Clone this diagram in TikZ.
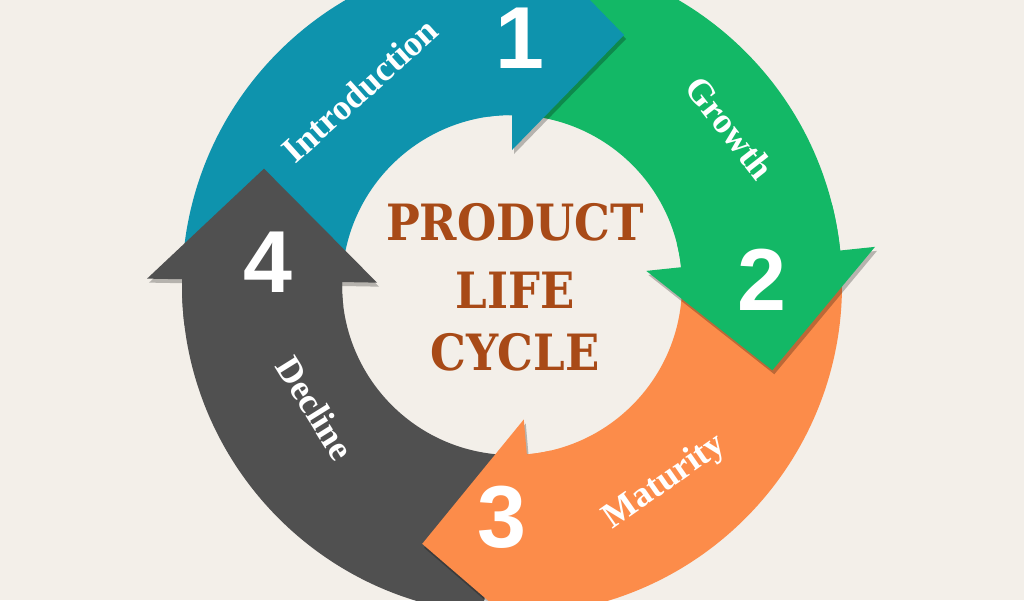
\documentclass[tikz,border=0pt]{standalone}
\usepackage{fontspec}
\setmainfont{Liberation Serif}
\newfontfamily\numfont{Liberation Sans}
\newfontfamily\slabfont{DejaVu Serif Condensed}
\usetikzlibrary{calc}
\definecolor{bgc}{HTML}{F3EFE9}
\definecolor{cteal}{HTML}{0E93AD}
\definecolor{cgreen}{HTML}{13B866}
\definecolor{corange}{HTML}{FC8C4A}
\definecolor{cgray}{HTML}{505050}
\definecolor{cbrown}{HTML}{A84A17}
\newcommand\segbody[3]{%
  \fill[#1] ($(C)+(#2:330)$) arc[start angle=#2,end angle=#3,radius=330]
     -- ($(C)+(#3:170)$) arc[start angle=#3,end angle=#2,radius=170] -- cycle;}
\newcommand\seghead[2]{%
  \fill[black,opacity=.25] ($(C)+(#2:365)+(2,4)$) -- ($(C)+(#2:250)+(#2+90:112)+(2,4)$) -- ($(C)+(#2:135)+(2,4)$) -- cycle;
  \segbody{#1}{#2-8}{#2+1}
  \fill[#1] ($(C)+(#2:365)$) -- ($(C)+(#2:250)+(#2+90:112)$) -- ($(C)+(#2:135)$) -- cycle;}
\tikzset{lab/.style={text=white,font=\bfseries\fontsize{36}{36}\selectfont},
  num/.style={text=white,font=\numfont\bfseries\fontsize{88}{88}\selectfont},
  title/.style={text=cbrown,font=\slabfont\bfseries\fontsize{50}{50}\selectfont}}
\begin{document}
\begin{tikzpicture}[x=1pt,y=-1pt]
\fill[bgc] (0,0) rectangle (1024,600);
\useasboundingbox (0,0) rectangle (1024,600);
\coordinate (C) at (512,285);
\begin{scope}
\clip (0,0) rectangle (1024,600);
\segbody{cteal}{185}{271}
\segbody{cgreen}{269}{355}
\segbody{corange}{0}{86}
\segbody{cgray}{95}{182}
\seghead{cteal}{270}
\seghead{cgreen}{354}
\seghead{corange}{85}
\seghead{cgray}{181}
\end{scope}
\node[num] (n1) at (520,38) {1};
\node[num] (n2) at (762,280) {2};
\node[num] (n3) at (502,517) {3};
\node[num] (n4) at (268,262) {4};
\node[lab,rotate=42] (l1) at (360,90) {Introduction};
\node[lab,rotate=-52] (l2) at (730,128) {Growth};
\node[lab,rotate=35] (l3) at (665,482) {Maturity};
\node[lab,rotate=-58] (l4) at (315,408) {Decline};
\node[title] (t1) at (515,222) {PRODUCT};
\node[title] (t2) at (515,290) {LIFE};
\node[title] (t3) at (515,352) {CYCLE};
\end{tikzpicture}
\end{document}
